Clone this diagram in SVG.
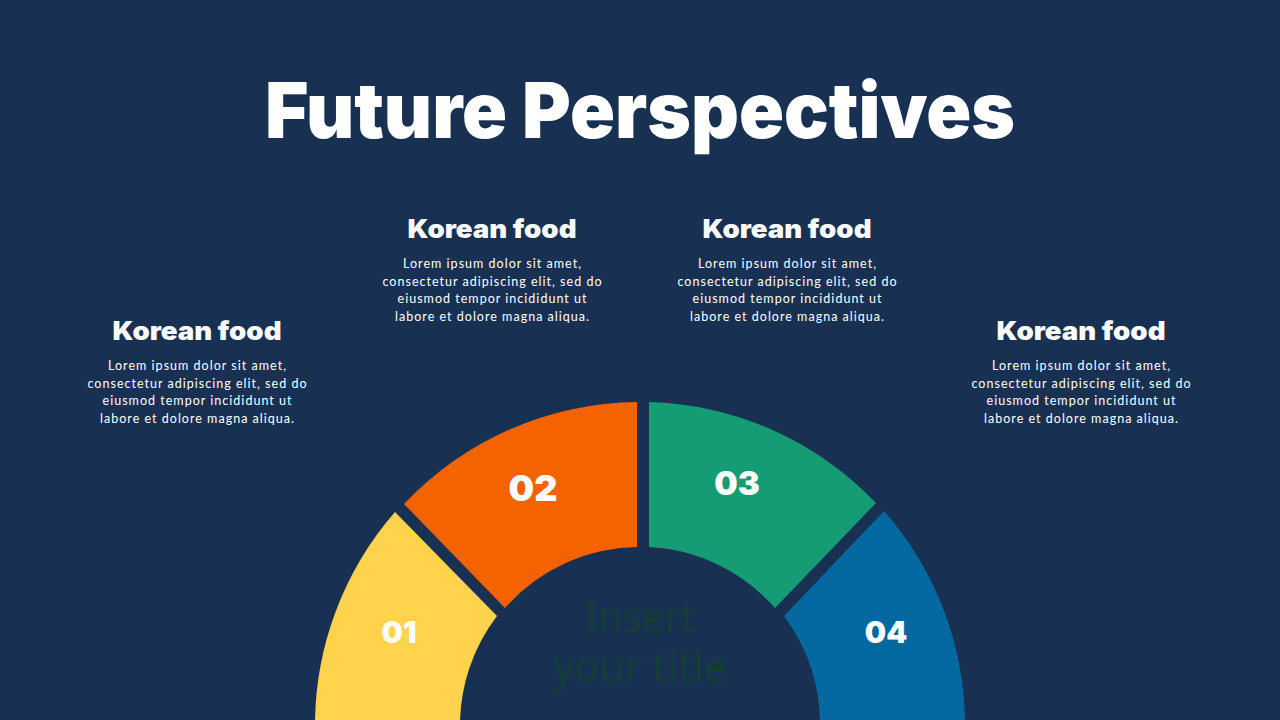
<svg xmlns="http://www.w3.org/2000/svg" width="1280" height="720" viewBox="0 0 1280 720">
<style>
.title{font-family:Inter,"Liberation Sans",sans-serif;font-weight:900;fill:#ffffff;text-anchor:middle}
.head{font-family:Inter,"Liberation Sans",sans-serif;font-weight:900;font-size:26px;fill:#ffffff;text-anchor:middle}
.body{font-family:Lato,"Liberation Sans",sans-serif;font-weight:400;font-size:12.5px;fill:#ffffff;text-anchor:middle}
.num{font-family:Inter,"Liberation Sans",sans-serif;font-weight:900;fill:#ffffff;text-anchor:middle}
.center{font-family:"Noto Sans","Open Sans",sans-serif;font-weight:400;font-size:42px;fill:#143f38;text-anchor:middle}
</style>
<rect width="1280" height="720" fill="#183153"/>
<text class="title" x="640" y="138" font-size="77" textLength="750" lengthAdjust="spacingAndGlyphs">Future Perspectives</text>

<g id="segment-01">
<path d="M315,727 A325,325 0 0 1 395,512 L497,616 A180,180 0 0 0 460,727 Z" fill="#ffd34c"/>
<text class="num" x="399" y="643" font-size="30">01</text>
</g>
<g id="segment-02">
<path d="M404,504 A325,325 0 0 1 637,402 L637,547 A180,180 0 0 0 505,608 Z" fill="#f56200"/>
<text class="num" x="533" y="501" font-size="36">02</text>
</g>
<g id="segment-03">
<path d="M649,402 A325,325 0 0 1 876,503 L775,608 A180,180 0 0 0 649,547 Z" fill="#169c74"/>
<text class="num" x="737" y="495" font-size="33">03</text>
</g>
<g id="segment-04">
<path d="M884,511 A325,325 0 0 1 965,727 L820,727 A180,180 0 0 0 784,616 Z" fill="#03689f"/>
<text class="num" x="886" y="643" font-size="30">04</text>
</g>

<g id="center-title">
<text class="center"><tspan x="640" y="632" textLength="111" lengthAdjust="spacingAndGlyphs">Insert</tspan><tspan x="640" y="682" textLength="174" lengthAdjust="spacingAndGlyphs">your title</tspan></text>
</g>

<g id="block-01">
<text class="head" x="197" y="340" textLength="169" lengthAdjust="spacingAndGlyphs">Korean food</text>
<text class="body" x="197" y="370" textLength="178">Lorem ipsum dolor sit amet,</text>
<text class="body" x="197" y="388" textLength="219">consectetur adipiscing elit, sed do</text>
<text class="body" x="197" y="405" textLength="189">eiusmod tempor incididunt ut</text>
<text class="body" x="197" y="423" textLength="194">labore et dolore magna aliqua.</text>
</g>
<g id="block-02">
<text class="head" x="492" y="238" textLength="169" lengthAdjust="spacingAndGlyphs">Korean food</text>
<text class="body" x="492" y="268" textLength="178">Lorem ipsum dolor sit amet,</text>
<text class="body" x="492" y="286" textLength="219">consectetur adipiscing elit, sed do</text>
<text class="body" x="492" y="303" textLength="189">eiusmod tempor incididunt ut</text>
<text class="body" x="492" y="321" textLength="194">labore et dolore magna aliqua.</text>
</g>
<g id="block-03">
<text class="head" x="787" y="238" textLength="169" lengthAdjust="spacingAndGlyphs">Korean food</text>
<text class="body" x="787" y="268" textLength="178">Lorem ipsum dolor sit amet,</text>
<text class="body" x="787" y="286" textLength="219">consectetur adipiscing elit, sed do</text>
<text class="body" x="787" y="303" textLength="189">eiusmod tempor incididunt ut</text>
<text class="body" x="787" y="321" textLength="194">labore et dolore magna aliqua.</text>
</g>
<g id="block-04">
<text class="head" x="1081" y="340" textLength="169" lengthAdjust="spacingAndGlyphs">Korean food</text>
<text class="body" x="1081" y="370" textLength="178">Lorem ipsum dolor sit amet,</text>
<text class="body" x="1081" y="388" textLength="219">consectetur adipiscing elit, sed do</text>
<text class="body" x="1081" y="405" textLength="189">eiusmod tempor incididunt ut</text>
<text class="body" x="1081" y="423" textLength="194">labore et dolore magna aliqua.</text>
</g>
<g id="connectors"/>
</svg>
